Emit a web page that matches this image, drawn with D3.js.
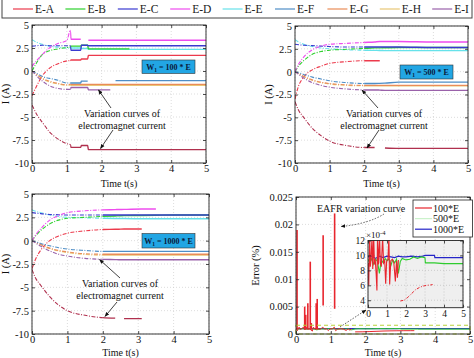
<!DOCTYPE html>
<html><head><meta charset="utf-8">
<script src="https://cdn.jsdelivr.net/npm/d3@7"></script>
<style>body{margin:0;background:#fff} svg text{font-family:"Liberation Serif","Times New Roman",serif}</style>
</head><body><svg id="c" width="474" height="358"></svg>
<script>
// ---------------- DATA ----------------
const seriesNames = ["E-A","E-B","E-C","E-D","E-E","E-F","E-G","E-H","E-I"];
const seriesColors = ["#ec3a4c","#2ed12e","#3a3ad0","#ee4cee","#66e2ea","#4f8ec6","#ea8c58","#e8c676","#9a62aa"];
const lowerColor = "#b0304e";
const xTicks = [0,1,2,3,4,5];
const yTicksI = [5,2.5,0,-2.5,-5,-7.5,-10];
const yTicksE = [0,0.005,0.01,0.015,0.02,0.025];
const yTicksInset = [4,6,8,10,12];
const boxLabels = ["100","500","1000"];

// Panel 1 (W1 = 100*E)
const T1 = [0,0.15,0.3,0.5,0.75,1.0,1.1,1.12,1.4,1.42,1.6,1.62,2.25,2.4,2.8,5];
const p1A = [-2.7,-1.5,-0.5,0.3,0.8,1.1,1.15,1.2,1.2,1.3,1.3,1.7,1.7,1.7,1.7,1.7];
const p1B = [0,1.0,1.8,2.2,2.4,2.55,2.6,2.7,2.7,2.8,2.8,2.4,2.4,2.4,2.4,null];
const p1C = [2.7,2.75,2.8,2.75,2.75,2.75,2.75,2.25,2.25,2.8,2.8,2.75,2.75,2.75,2.75,2.75];
const p1D = [0.5,1.2,1.8,2.5,3.0,3.3,4.4,3.45,3.45,null,null,3.35,3.35,3.35,3.35,3.35];
const p1E = [3.4,3.1,2.9,2.7,2.6,2.5,2.5,2.5,2.5,2.45,2.45,2.35,2.35,2.35,2.35,2.35];
const p1F = [0,-0.3,-0.6,-0.8,-1.0,-1.3,-1.3,-1.3,-1.3,-1.1,-1.1,null,null,-1.05,-1.05,-1.05];
const p1G = [0,-0.4,-0.8,-1.1,-1.35,-1.5,-1.45,-1.45,-1.45,-1.45,-1.45,-1.45,-1.45,-1.45,-1.45,-1.45];
const p1H = [0,-0.45,-0.85,-1.2,-1.4,-1.55,-1.55,-1.55,-1.55,-1.55,-1.55,-1.55,-1.55,-1.55,-1.55,-1.55];
const p1I = [0,-0.6,-1.1,-1.6,-1.9,-2.0,-2.0,-1.8,-1.8,-1.8,-1.8,-2.05,-2.05,null,null,null];
const p1L = [-3.7,-4.8,-5.6,-6.6,-7.4,-7.9,-8.0,-8.3,-8.3,-8.1,-8.1,-8.55,-8.55,-8.55,-8.55,-8.55];

// Panel 2 (W1 = 500*E)
const T2 = [0,0.1,0.25,0.5,0.75,1,1.5,2,2.3,2.45,2.6,3,4,5];
const p2A = [-3.0,-1.6,-0.6,0.2,0.6,0.9,1.1,1.2,1.2,1.2,null,null,null,null];
const p2B = [0,0.6,1.2,1.9,2.2,2.35,2.45,2.55,2.6,2.6,2.62,2.65,2.65,2.65];
const p2C = [3.0,2.95,2.9,2.85,2.8,2.75,2.7,2.7,2.7,2.7,2.7,2.7,2.65,2.65];
const p2D = [0,0.8,1.6,2.4,2.8,3.0,3.1,3.2,3.25,3.3,3.3,3.3,3.25,3.25];
const p2E = [3.5,3.25,3.0,2.75,2.6,2.5,2.4,2.35,2.33,2.32,2.3,2.3,2.3,2.3];
const p2F = [0,-0.12,-0.3,-0.6,-0.8,-1.0,-1.2,-1.3,-1.3,-1.28,-1.25,-1.15,-1.15,-1.15];
const p2G = [0,-0.2,-0.5,-0.9,-1.15,-1.3,-1.45,-1.5,-1.5,-1.5,-1.5,-1.5,-1.5,-1.5];
const p2H = [0,-0.22,-0.55,-0.95,-1.2,-1.35,-1.5,-1.55,-1.55,-1.55,-1.55,-1.55,-1.55,-1.55];
const p2I = [0,-0.3,-0.7,-1.2,-1.5,-1.7,-1.9,-2.0,-2.0,-2.02,-2.05,-2.05,-2.05,-2.05];
const p2L = [-3.3,-4.2,-5.0,-6.2,-7.0,-7.6,-8.1,-8.3,-8.3,null,-8.35,-8.4,-8.4,-8.4];

// Panel 3 (W1 = 1000*E)
const T3 = [0,0.1,0.25,0.5,0.75,1,1.5,2,2.35,2.45,2.6,3.1,3.5,4,5];
const p3A = [-3.0,-2.0,-1.0,0.0,0.5,0.8,1.05,1.2,1.22,1.23,1.25,1.25,null,null,null];
const p3B = [0,0.5,1.1,1.8,2.2,2.4,2.5,2.6,2.65,2.66,2.68,2.7,2.72,2.75,2.75];
const p3C = [3.0,2.95,2.9,2.8,2.78,2.75,2.75,2.75,2.75,2.75,2.75,2.75,2.75,2.75,2.75];
const p3D = [0,0.6,1.3,2.2,2.7,3.0,3.2,3.3,3.33,3.34,3.35,3.4,3.4,null,null];
const p3E = [3.3,3.15,3.0,2.75,2.6,2.5,2.45,2.4,2.38,2.38,2.37,2.35,2.35,2.35,2.35];
const p3F = [0,-0.12,-0.3,-0.55,-0.75,-0.9,-1.05,-1.15,-1.15,-1.15,-1.15,-1.15,-1.15,-1.15,-1.15];
const p3G = [0,-0.15,-0.4,-0.8,-1.05,-1.2,-1.4,-1.45,-1.45,-1.45,-1.45,-1.45,-1.45,-1.45,-1.45];
const p3H = [0,-0.17,-0.45,-0.85,-1.1,-1.28,-1.48,-1.55,-1.55,-1.55,-1.55,-1.55,-1.55,-1.55,-1.55];
const p3I = [0,-0.25,-0.6,-1.1,-1.45,-1.65,-1.9,-2.0,-2.03,-2.04,-2.05,-2.05,-2.05,-2.05,-2.05];
const p3L = [-3.1,-4.0,-4.8,-6.0,-6.9,-7.5,-8.0,-8.25,-8.3,null,-8.35,-8.35,null,null,null];

// Panel 4: error (%) ; red spikes of 100*E
const spikeT  = [0.03,0.25,0.28,0.34,0.41,0.44,0.58,0.61,0.78,1.11];
const spikeLo = [0.0008,0.0008,0.0008,0.0008,0.0008,0.0008,0.0008,0.0008,0.0052,0.0046];
const spikeHi = [0.019,0.005,0.0035,0.0056,0.0132,0.002,0.0056,0.0064,0.018,0.022];
// inset values (x10^-4)
const redT  = [0,0.04,0.06,0.09,0.12,0.16,0.21,0.25,0.3,0.34,0.38,0.43,0.47,0.5,0.55,0.61,0.65,0.7,0.77,0.82,0.88,0.93,0.98,1.05,1.1,1.14,1.2,1.28,1.36,1.44,1.5,1.55,1.6];
const redV  = [9.0,6.0,9.2,12.5,8.5,9.5,12.5,8.2,12.5,8.8,9.5,7.5,5.3,12.5,8.8,12.5,9.0,8.5,12.5,9.0,9.3,6.2,9.2,9.5,12.5,6.1,9.3,9.5,9.0,6.5,9.3,7.0,9.4];
const red2T = [1.7,1.9,2.1,2.3,2.5,2.7,2.9,3.1,3.3,3.4];
const red2V = [3.9,4.0,4.4,4.9,5.4,5.7,5.9,6.0,6.05,6.1];
const greenT = [0,0.1,0.2,0.3,0.4,0.5,0.6,0.7,0.8,0.9,1.0,1.1,1.2,1.3,1.4,1.5,1.6,1.7,1.8,2.0,2.2,2.4,2.6,2.8,3.0,3.02,3.5,4,5];
const greenV = [9.5,9.0,9.6,8.8,9.5,9.2,7.6,9.4,9.0,9.6,9.3,9.5,8.6,9.4,9.0,9.5,7.6,9.2,9.6,9.4,9.5,9.8,9.6,9.8,9.7,9.0,9.0,8.9,8.9];
const blueT = [0,0.2,0.4,0.6,0.8,1.0,1.2,1.4,1.6,1.8,2.0,2.3,2.6,2.9,3.0,3.5,3.52,4,5];
const blueV = [9.8,9.9,9.6,9.9,9.7,9.9,9.8,9.7,9.9,9.8,9.8,9.9,9.8,9.9,10.0,10.0,9.7,9.7,9.7];
const errNames = ["100*E","500*E","1000*E"];
const errColors = ["#e8262e","#2ecc2e","#2424c8"];

// ---------------- DRAW ----------------
const svg = d3.select("#c");
const FONT = '"Liberation Serif","Times New Roman",serif';
const defs = svg.append("defs");
defs.append("marker").attr("id","ah").attr("viewBox","0 0 10 10").attr("refX",9).attr("refY",5)
  .attr("markerWidth",6).attr("markerHeight",6).attr("orient","auto-start-reverse")
  .append("path").attr("d","M0,1 L10,5 L0,9 z").attr("fill","#111");

// top legend
const lg = svg.append("g");
lg.append("rect").attr("x",2).attr("y",-1).attr("width",470).attr("height",19).attr("fill","#fff").attr("stroke","#444").attr("stroke-width",1);
seriesNames.forEach((n,i)=>{
  const x0 = 13 + 52.4*i;
  lg.append("line").attr("x1",x0).attr("x2",x0+20).attr("y1",9).attr("y2",9).attr("stroke",seriesColors[i]).attr("stroke-width",1.2);
  lg.append("text").attr("x",x0+22).attr("y",12.5).attr("font-size",11.5).attr("fill","#222").text(n);
});

let clipId = 0;
function addClip(x0,y0,w,h){ const id="cp"+(clipId++); defs.append("clipPath").attr("id",id).append("rect").attr("x",x0).attr("y",y0).attr("width",w).attr("height",h); return "url(#"+id+")"; }

function grid(g,x,y,xt,yt,col){
  const [x0,x1]=x.range(), [y1,y0]=y.range();
  g.append("g").selectAll("line").data(xt).join("line").attr("x1",d=>x(d)).attr("x2",d=>x(d)).attr("y1",y0).attr("y2",y1)
    .attr("stroke",col).attr("stroke-width",0.7).attr("stroke-dasharray","1,2");
  g.append("g").selectAll("line").data(yt).join("line").attr("y1",d=>y(d)).attr("y2",d=>y(d)).attr("x1",x0).attr("x2",x1)
    .attr("stroke",col).attr("stroke-width",0.7).attr("stroke-dasharray","1,2");
}
function axes(g,x,y,xt,yt,yfmt,fs,xlab,ylab,ylx,pad){
  const [x0,x1]=x.range(), [y1,y0]=y.range();
  const ax = g.append("g").attr("transform",`translate(0,${y1})`).call(d3.axisBottom(x).tickValues(xt).tickSize(-3).tickPadding(pad||3).tickFormat(d3.format("d")));
  const ay = g.append("g").attr("transform",`translate(${x0},0)`).call(d3.axisLeft(y).tickValues(yt).tickSize(-3).tickPadding(3).tickFormat(yfmt));
  g.append("g").attr("transform",`translate(0,${y0})`).call(d3.axisTop(x).tickValues(xt).tickSize(-3).tickFormat(""));
  g.append("g").attr("transform",`translate(${x1},0)`).call(d3.axisRight(y).tickValues(yt).tickSize(-3).tickFormat(""));
  g.selectAll(".domain").remove();
  g.selectAll(".tick line").attr("stroke","#222").attr("stroke-width",0.8);
  [ax,ay].forEach(a=>a.attr("font-family",FONT).attr("font-size",fs).selectAll("text").attr("fill","#111"));
  g.append("rect").attr("x",x0).attr("y",y0).attr("width",x1-x0).attr("height",y1-y0).attr("fill","none").attr("stroke","#222").attr("stroke-width",0.9);
  if(xlab) g.append("text").attr("x",(x0+x1)/2).attr("y",Math.min(y1+23.5,356)).attr("text-anchor","middle").attr("font-size",10).attr("fill","#111").text(xlab);
  if(ylab) g.append("text").attr("transform",`translate(${ylx},${(y0+y1)/2}) rotate(-90)`).attr("text-anchor","middle").attr("font-size",10.5).attr("fill","#111").text(ylab);
}

function currentPanel(rect, T, vals, solidFrom, boxTxt, boxRect, ann){
  const x = d3.scaleLinear([0,5],[rect.x0,rect.x1]);
  const y = d3.scaleLinear([-10,5],[rect.y1,rect.y0]);
  const g = svg.append("g");
  grid(g,x,y,xTicks,yTicksI,"#cfcfcf");
  const clipL = addClip(rect.x0,rect.y0,x(solidFrom)-rect.x0,rect.y1-rect.y0);
  const clipR = addClip(x(solidFrom),rect.y0,rect.x1-x(solidFrom),rect.y1-rect.y0);
  const line = d3.line().defined(d=>d[1]!=null).x(d=>x(d[0])).y(d=>y(d[1])).curve(d3.curveMonotoneX);
  const cols = seriesColors.concat([lowerColor]);
  const order = [4,1,2,3,0,7,6,5,8,9];
  order.forEach(i=>{
    const pts = T.map((t,k)=>[t,vals[i][k]]);
    g.append("path").attr("d",line(pts)).attr("fill","none").attr("stroke",cols[i]).attr("stroke-width",1.1)
      .attr("stroke-dasharray","4,1.5,1,1.5").attr("clip-path",clipL);
    g.append("path").attr("d",line(pts)).attr("fill","none").attr("stroke",cols[i]).attr("stroke-width",1.4)
      .attr("clip-path",clipR);
  });
  axes(g,x,y,xTicks,yTicksI,d=>String(d),10.5,"Time t(s)","I (A)",rect.ylx,2);
  g.append("rect").attr("x",boxRect[0]).attr("y",boxRect[1]).attr("width",boxRect[2]).attr("height",boxRect[3])
    .attr("fill","#22a6e4").attr("stroke","#333").attr("stroke-width",0.6);
  const bt = g.append("text").attr("x",boxRect[0]+boxRect[2]/2).attr("y",boxRect[1]+boxRect[3]/2+3).attr("text-anchor","middle")
    .attr("font-size",8).attr("font-weight","bold").attr("fill","#0a1a3a");
  bt.append("tspan").text("W");
  bt.append("tspan").attr("font-size",5.5).attr("dy",2).text("1");
  bt.append("tspan").attr("dy",-2).text(" = "+boxTxt+" * E");
  g.append("text").attr("x",ann.tx).attr("y",ann.ty).attr("text-anchor","middle").attr("font-size",10).attr("fill","#111").text("Variation curves of");
  g.append("text").attr("x",ann.tx).attr("y",ann.ty+11.5).attr("text-anchor","middle").attr("font-size",10).attr("fill","#111").text("electromagnet current");
  ann.arrows.forEach(a=>g.append("line").attr("x1",a[0]).attr("y1",a[1]).attr("x2",a[2]).attr("y2",a[3]).attr("stroke","#111").attr("stroke-width",0.8).attr("marker-end","url(#ah)"));
}

currentPanel({x0:32,x1:206,y0:25,y1:163,ylx:9}, T1, [p1A,p1B,p1C,p1D,p1E,p1F,p1G,p1H,p1I,p1L], 1.1, boxLabels[0], [142,60,53,13.5],
  {tx:122,ty:117,arrows:[[111,108,98.5,90],[113,130,100.5,148.5]]});
currentPanel({x0:295,x1:468,y0:26,y1:163,ylx:272}, T2, [p2A,p2B,p2C,p2D,p2E,p2F,p2G,p2H,p2I,p2L], 2.0, boxLabels[1], [400,65,53,14],
  {tx:384,ty:117,arrows:[[378,108,362,90],[379,130,367,148]]});
currentPanel({x0:32,x1:209,y0:194,y1:334,ylx:9}, T3, [p3A,p3B,p3C,p3D,p3E,p3F,p3G,p3H,p3I,p3L], 2.0, boxLabels[2], [142,233.5,53,14.5],
  {tx:120,ty:287,arrows:[[120,278,99.5,259.5],[117,302,105,316.5]]});

// ---------- Panel 4 ----------
(function(){
  const x = d3.scaleLinear([0,5],[296,470]);
  const y = d3.scaleLinear([0,0.025],[334,197]);
  const g = svg.append("g");
  grid(g,x,y,xTicks,yTicksE,"#cfcfcf");
  const clip = addClip(296,197,174,137);
  const line = d3.line().x(d=>x(d[0])).y(d=>y(d[1]*1e-4));
  const pg = g.append("g").attr("clip-path",clip);
  pg.append("path").attr("d",line(blueT.map((t,k)=>[t,blueV[k]]))).attr("fill","none").attr("stroke",errColors[2]).attr("stroke-width",1.2);
  pg.append("path").attr("d",line(greenT.map((t,k)=>[t,greenV[k]]))).attr("fill","none").attr("stroke",errColors[1]).attr("stroke-width",1);
  pg.append("path").attr("d",line(redT.map((t,k)=>[t,redV[k]]))).attr("fill","none").attr("stroke",errColors[0]).attr("stroke-width",1);
  pg.append("path").attr("d",line(red2T.map((t,k)=>[t,red2V[k]]))).attr("fill","none").attr("stroke",errColors[0]).attr("stroke-width",1);
  pg.selectAll("line.sp").data(spikeT).join("line").attr("x1",d=>x(d)).attr("x2",d=>x(d))
    .attr("y1",(d,i)=>y(spikeLo[i])).attr("y2",(d,i)=>y(spikeHi[i])).attr("stroke",errColors[0]).attr("stroke-width",1.6);
  g.append("rect").attr("x",x(0)).attr("y",y(0.0016)).attr("width",x(5)-x(0)).attr("height",y(0)-y(0.0016))
    .attr("fill","none").attr("stroke","#b9d23a").attr("stroke-width",1.2).attr("stroke-dasharray","4,3");
  axes(g,x,y,xTicks,yTicksE,d=>String(+d.toFixed(3)),10.5,"Time t(s)","Error (%)",259,2);
  g.append("text").attr("x",317).attr("y",211.5).attr("font-size",10).attr("fill","#111").text("EAFR variation curve");
  g.append("path").attr("d","M384,214 Q368,224 341,226.5").attr("fill","none").attr("stroke","#333").attr("stroke-width",0.8).attr("stroke-dasharray","1.5,1.5").attr("marker-end","url(#ah)");
  g.append("path").attr("d","M340,327 L366,310").attr("fill","none").attr("stroke","#333").attr("stroke-width",0.8).attr("stroke-dasharray","1.5,1.5").attr("marker-end","url(#ah)");
  g.append("rect").attr("x",413).attr("y",200).attr("width",59.5).attr("height",37).attr("fill","#fff").attr("stroke","#222").attr("stroke-width",0.8);
  errNames.forEach((n,i)=>{
    const yy = 208 + 10.6*i;
    g.append("line").attr("x1",415).attr("x2",432).attr("y1",yy).attr("y2",yy).attr("stroke",errColors[i]).attr("stroke-width",1.2).attr("stroke-opacity",i==1?0.25:1);
    g.append("text").attr("x",433).attr("y",yy+3.5).attr("font-size",10).attr("fill","#111").text(n);
  });

  // inset
  const xi = d3.scaleLinear([0,5],[368,463]);
  const yi = d3.scaleLinear([3,12],[307.7,240.5]);
  const gi = svg.append("g");
  gi.append("rect").attr("x",368).attr("y",240.5).attr("width",95).attr("height",67.2).attr("fill","#efefef");
  grid(gi,xi,yi,xTicks,yTicksInset,"#bdbdbd");
  const ci = addClip(368,240.5,95,67.2);
  const li = d3.line().x(d=>xi(d[0])).y(d=>yi(d[1]));
  const ig = gi.append("g").attr("clip-path",ci);
  ig.append("path").attr("d",li(blueT.map((t,k)=>[t,blueV[k]]))).attr("fill","none").attr("stroke",errColors[2]).attr("stroke-width",1.2);
  ig.append("path").attr("d",li(greenT.map((t,k)=>[t,greenV[k]]))).attr("fill","none").attr("stroke",errColors[1]).attr("stroke-width",1.1);
  ig.append("path").attr("d",li(redT.map((t,k)=>[t,redV[k]]))).attr("fill","none").attr("stroke",errColors[0]).attr("stroke-width",1.1);
  ig.append("path").attr("d",li(red2T.map((t,k)=>[t,red2V[k]]))).attr("fill","none").attr("stroke",errColors[0]).attr("stroke-width",1).attr("stroke-dasharray","3,1.5,1,1.5");
  axes(gi,xi,yi,xTicks,yTicksInset,d=>String(d),9.5,null,null,0,3);
  const sx = gi.append("text").attr("x",366).attr("y",238).attr("font-size",9).attr("fill","#111");
  sx.append("tspan").text("×10");
  sx.append("tspan").attr("font-size",6.5).attr("dy",-3.5).text("-4");
})();
</script></body></html>
